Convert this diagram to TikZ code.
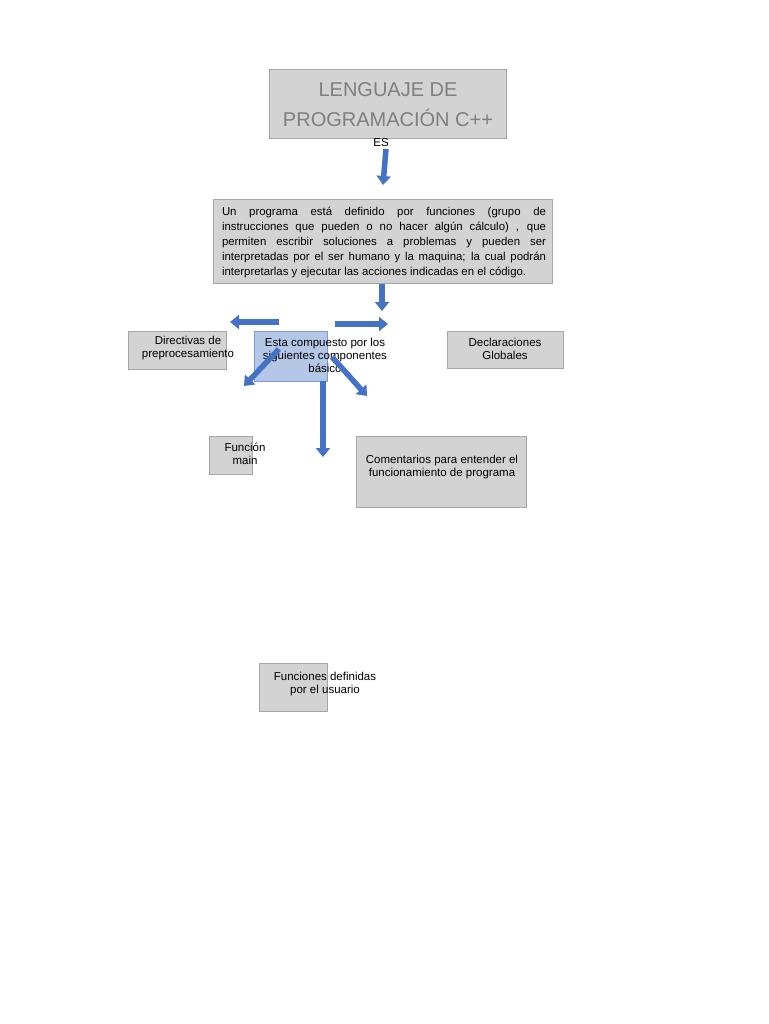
\documentclass[tikz,border=0pt]{standalone}
\usepackage{fontspec}
\setmainfont{Liberation Sans}
\usetikzlibrary{arrows.meta,positioning}

\definecolor{boxgray}{HTML}{D3D3D3}
\definecolor{edgegray}{HTML}{A6A6A6}
\definecolor{titlegray}{HTML}{7F7F7F}
\definecolor{arrowblue}{HTML}{4472C4}
\definecolor{lightblue}{HTML}{B4C7E7}

\tikzset{
  box/.style={draw=edgegray, fill=boxgray, line width=0.8pt, inner sep=0pt},
  bluebox/.style={draw=arrowblue!70, fill=lightblue, line width=0.8pt, inner sep=0pt},
  txt/.style={align=center, font=\fontsize{11.5}{13}\selectfont, inner sep=0pt},
  blockarrow/.style={arrowblue, line width=5.5pt,
    -{Triangle[width=14pt,length=9pt]}},
}

\begin{document}
\begin{tikzpicture}[x=1pt,y=-1pt]
    \useasboundingbox (0,0) rectangle (768,1024);

    % Title
    \node[box, minimum width=237pt, minimum height=69pt] (title) at (387.5,103.5) {};
    \node[align=center, text=titlegray, font=\fontsize{20}{30}\selectfont, inner sep=0pt] (titleT) at (388,104.5) {LENGUAJE DE\\PROGRAMACIÓN C++};
    \node[txt] (es) at (381,143) {ES};

    % Definition
    \node[box, minimum width=339pt, minimum height=84pt] (def) at (382.5,241) {};
    \node[txt, text width=324pt, align=justify, font=\fontsize{11.4}{15}\selectfont] (defT) at (384,242)
      {Un programa está definido por funciones (grupo de\linebreak instrucciones que pueden o no hacer algún cálculo) , que\linebreak permiten escribir soluciones a problemas y pueden ser\linebreak interpretadas por el ser humano y la maquina; la cual podrán\linebreak interpretarlas y ejecutar las acciones indicadas en el código.};

    % Components
    \node[bluebox, minimum width=73pt, minimum height=50pt] (comp) at (290.5,356) {};
    \node[txt] (compT) at (325,355) {Esta compuesto por los\\siguientes componentes\\básico};

    \node[box, minimum width=98pt, minimum height=38pt] (dir) at (177,350) {};
    \node[txt] (dirT) at (188,348.5) {Directivas de\\preprocesamiento};

    \node[box, minimum width=116pt, minimum height=37pt] (decl) at (505,349.5) {};
    \node[txt] (declT) at (505,348.5) {Declaraciones\\Globales};

    \node[box, minimum width=43pt, minimum height=38pt] (main) at (230.5,455) {};
    \node[txt] (mainT) at (245,453.5) {Función\\main};

    \node[box, minimum width=170pt, minimum height=71pt] (com) at (441,471.5) {};
    \node[txt] (comT) at (442,467.5) {Comentarios para entender el\\funcionamiento de programa};

    \node[box, minimum width=68pt, minimum height=48pt] (user) at (293,687) {};
    \node[txt] (userT) at (325,684.5) {Funciones definidas\\por el usuario};

    % Arrows
    \coordinate (a1s) at (386,149);
    \coordinate (a1e) at (383,185);
    \coordinate (a2s) at (382,284);
    \coordinate (a2e) at (382,311);
    \coordinate (a3s) at (279,322);
    \coordinate (a3e) at (230,322);
    \coordinate (a4s) at (335,324);
    \coordinate (a4e) at (388,324);
    \coordinate (a5s) at (279,349);
    \coordinate (a5e) at (244,386);
    \coordinate (a6s) at (332,357);
    \coordinate (a6e) at (367,396);
    \coordinate (a7s) at (323,381);
    \coordinate (a7e) at (323,457);

    \foreach \s/\e in {a1s/a1e, a2s/a2e, a3s/a3e, a4s/a4e, a5s/a5e, a6s/a6e, a7s/a7e}
      \draw[blockarrow] (\s) -- (\e);
\end{tikzpicture}
\end{document}
